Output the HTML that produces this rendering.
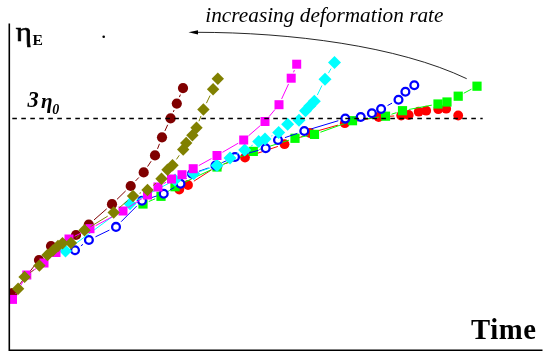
<!DOCTYPE html>
<html><head><meta charset="utf-8"><title>chart</title>
<style>html,body{margin:0;padding:0;background:#fff}svg{display:block}</style></head>
<body>
<svg width="550" height="360" viewBox="0 0 550 360">
<rect width="550" height="360" fill="#fff"/>
<clipPath id="cp"><rect x="9.3" y="0" width="541" height="350.3"/></clipPath>
<g clip-path="url(#cp)">
<path d="M180.40,94.60L179.40,97.10M174.10,110.06L173.30,111.94M167.70,124.77L164.90,130.93M159.48,143.83L157.52,148.87M151.13,161.23L147.57,166.57M138.86,177.46L135.54,180.94M125.68,190.88L117.02,199.32M106.73,208.81L94.07,219.89M83.39,228.94L81.41,230.56M69.59,237.82L57.41,243.18M46.44,251.31L43.56,254.69M34.63,265.47L16.87,287.73" fill="none" stroke="#800000" stroke-width="1.0"/>
<circle cx="183" cy="88.1" r="5.1" fill="#800000"/><circle cx="176.8" cy="103.6" r="5.1" fill="#800000"/><circle cx="170.6" cy="118.4" r="5.1" fill="#800000"/><circle cx="162" cy="137.3" r="5.1" fill="#800000"/><circle cx="155" cy="155.4" r="5.1" fill="#800000"/><circle cx="143.7" cy="172.4" r="5.1" fill="#800000"/><circle cx="130.7" cy="186" r="5.1" fill="#800000"/><circle cx="112" cy="204.2" r="5.1" fill="#800000"/><circle cx="88.8" cy="224.5" r="5.1" fill="#800000"/><circle cx="76" cy="235" r="5.1" fill="#800000"/><circle cx="51" cy="246" r="5.1" fill="#800000"/><circle cx="39" cy="260" r="5.1" fill="#800000"/><circle cx="12.5" cy="293.2" r="5.1" fill="#800000"/>
<path d="M394.22,115.97L385.68,116.53M371.81,118.26L351.69,121.94M338.06,125.10L316.74,131.10M303.59,135.81L290.91,141.39M277.87,146.43L251.63,155.27M238.31,159.57L224.19,163.93M211.61,169.79L193.89,181.21" fill="none" stroke="#ff0000" stroke-width="1.0"/>
<circle cx="458.2" cy="115.5" r="4.9" fill="#ff0000"/><circle cx="446.2" cy="108.7" r="4.9" fill="#ff0000"/><circle cx="438.3" cy="109.2" r="4.9" fill="#ff0000"/><circle cx="426.2" cy="110.7" r="4.9" fill="#ff0000"/><circle cx="418.7" cy="111.7" r="4.9" fill="#ff0000"/><circle cx="408.7" cy="115" r="4.9" fill="#ff0000"/><circle cx="401.2" cy="115.5" r="4.9" fill="#ff0000"/><circle cx="378.7" cy="117" r="4.9" fill="#ff0000"/><circle cx="344.8" cy="123.2" r="4.9" fill="#ff0000"/><circle cx="310" cy="133" r="4.9" fill="#ff0000"/><circle cx="284.5" cy="144.2" r="4.9" fill="#ff0000"/><circle cx="245" cy="157.5" r="4.9" fill="#ff0000"/><circle cx="217.5" cy="166" r="4.9" fill="#ff0000"/><circle cx="188" cy="185" r="4.9" fill="#ff0000"/><circle cx="179.3" cy="189.5" r="4.9" fill="#ff0000"/>
<path d="M471.44,89.16L463.76,93.24M431.81,105.17L408.69,109.53M396.51,112.64L391.49,114.26M379.26,117.05L358.74,119.85M346.57,122.84L320.43,132.26M308.32,135.64L301.18,137.06M288.99,140.19L259.31,149.51M247.51,153.89L222.79,164.51M211.30,169.68L180.70,184.02M169.80,190.26L166.20,192.74M155.21,198.78L148.79,201.52" fill="none" stroke="#00ff00" stroke-width="1.0"/>
<rect x="472.40" y="81.60" width="9.2" height="9.2" fill="#00ff00"/><rect x="453.60" y="91.60" width="9.2" height="9.2" fill="#00ff00"/><rect x="442.40" y="97.40" width="9.2" height="9.2" fill="#00ff00"/><rect x="433.40" y="99.40" width="9.2" height="9.2" fill="#00ff00"/><rect x="397.90" y="106.10" width="9.2" height="9.2" fill="#00ff00"/><rect x="380.90" y="111.60" width="9.2" height="9.2" fill="#00ff00"/><rect x="347.90" y="116.10" width="9.2" height="9.2" fill="#00ff00"/><rect x="309.90" y="129.80" width="9.2" height="9.2" fill="#00ff00"/><rect x="290.40" y="133.70" width="9.2" height="9.2" fill="#00ff00"/><rect x="248.70" y="146.80" width="9.2" height="9.2" fill="#00ff00"/><rect x="212.40" y="162.40" width="9.2" height="9.2" fill="#00ff00"/><rect x="170.40" y="182.10" width="9.2" height="9.2" fill="#00ff00"/><rect x="156.40" y="191.70" width="9.2" height="9.2" fill="#00ff00"/><rect x="138.40" y="199.40" width="9.2" height="9.2" fill="#00ff00"/>
<path d="M392.06,103.14L387.54,105.56M353.44,117.75L352.56,117.85M338.31,120.71L311.29,128.89M297.39,133.36L284.91,137.64M258.68,150.21L242.02,154.99M228.31,159.92L222.19,162.58M208.61,167.91L198.89,171.29M186.49,178.49L186.01,178.91M174.23,187.43L169.97,189.97M156.75,195.94L148.95,198.46M136.86,205.88L121.14,221.72M109.43,230.08L95.47,236.82M83.01,244.32L80.89,245.88" fill="none" stroke="#0000ff" stroke-width="1.0"/>
<circle cx="414.3" cy="85.3" r="3.9" fill="#fff" stroke="#0000ff" stroke-width="2.3"/><circle cx="405.4" cy="91.7" r="3.9" fill="#fff" stroke="#0000ff" stroke-width="2.3"/><circle cx="398.5" cy="99.7" r="3.9" fill="#fff" stroke="#0000ff" stroke-width="2.3"/><circle cx="381.1" cy="109" r="3.9" fill="#fff" stroke="#0000ff" stroke-width="2.3"/><circle cx="371.9" cy="113.2" r="3.9" fill="#fff" stroke="#0000ff" stroke-width="2.3"/><circle cx="360.7" cy="117" r="3.9" fill="#fff" stroke="#0000ff" stroke-width="2.3"/><circle cx="345.3" cy="118.6" r="3.9" fill="#fff" stroke="#0000ff" stroke-width="2.3"/><circle cx="304.3" cy="131" r="3.9" fill="#fff" stroke="#0000ff" stroke-width="2.3"/><circle cx="278" cy="140" r="3.9" fill="#fff" stroke="#0000ff" stroke-width="2.3"/><circle cx="265.7" cy="148.2" r="3.9" fill="#fff" stroke="#0000ff" stroke-width="2.3"/><circle cx="235" cy="157" r="3.9" fill="#fff" stroke="#0000ff" stroke-width="2.3"/><circle cx="215.5" cy="165.5" r="3.9" fill="#fff" stroke="#0000ff" stroke-width="2.3"/><circle cx="192" cy="173.7" r="3.9" fill="#fff" stroke="#0000ff" stroke-width="2.3"/><circle cx="180.5" cy="183.7" r="3.9" fill="#fff" stroke="#0000ff" stroke-width="2.3"/><circle cx="163.7" cy="193.7" r="3.9" fill="#fff" stroke="#0000ff" stroke-width="2.3"/><circle cx="142" cy="200.7" r="3.9" fill="#fff" stroke="#0000ff" stroke-width="2.3"/><circle cx="116" cy="226.9" r="3.9" fill="#fff" stroke="#0000ff" stroke-width="2.3"/><circle cx="88.9" cy="240" r="3.9" fill="#fff" stroke="#0000ff" stroke-width="2.3"/><circle cx="75" cy="250.2" r="3.9" fill="#fff" stroke="#0000ff" stroke-width="2.3"/>
<path d="M331.04,68.58L328.46,73.12M321.95,85.50L317.35,95.00M272.38,135.50L271.32,136.00M252.72,145.13L250.68,146.37M238.55,153.35L236.15,154.65M223.94,161.50L223.06,162.00M210.40,167.82L200.30,171.38M187.07,175.93L181.63,177.77M168.81,183.26L136.19,200.44M124.36,207.84L71.14,246.86" fill="none" stroke="#00ffff" stroke-width="1.0"/>
<path d="M334.5,56.0L341.0,62.5L334.5,69.0L328.0,62.5Z" fill="#00ffff"/><path d="M325,72.7L331.5,79.2L325,85.7L318.5,79.2Z" fill="#00ffff"/><path d="M314.3,94.8L320.8,101.3L314.3,107.8L307.8,101.3Z" fill="#00ffff"/><path d="M309.8,99.5L316.3,106L309.8,112.5L303.3,106Z" fill="#00ffff"/><path d="M305.5,104.3L312.0,110.8L305.5,117.3L299.0,110.8Z" fill="#00ffff"/><path d="M299,113.8L305.5,120.3L299,126.8L292.5,120.3Z" fill="#00ffff"/><path d="M287.6,117.7L294.1,124.2L287.6,130.7L281.1,124.2Z" fill="#00ffff"/><path d="M278.7,126.0L285.2,132.5L278.7,139.0L272.2,132.5Z" fill="#00ffff"/><path d="M265,132.5L271.5,139L265,145.5L258.5,139Z" fill="#00ffff"/><path d="M258.7,135.0L265.2,141.5L258.7,148.0L252.2,141.5Z" fill="#00ffff"/><path d="M244.7,143.5L251.2,150L244.7,156.5L238.2,150Z" fill="#00ffff"/><path d="M230,151.5L236.5,158L230,164.5L223.5,158Z" fill="#00ffff"/><path d="M217,159.0L223.5,165.5L217,172.0L210.5,165.5Z" fill="#00ffff"/><path d="M193.7,167.2L200.2,173.7L193.7,180.2L187.2,173.7Z" fill="#00ffff"/><path d="M175,173.5L181.5,180L175,186.5L168.5,180Z" fill="#00ffff"/><path d="M130,197.2L136.5,203.7L130,210.2L123.5,203.7Z" fill="#00ffff"/><path d="M65.5,244.5L72.0,251L65.5,257.5L59.0,251Z" fill="#00ffff"/>
<path d="M294.40,70.06L293.50,72.34M288.57,83.92L281.63,98.98M274.97,109.54L269.03,116.66M260.24,125.63L248.46,135.87M238.25,143.16L222.45,152.34M211.49,158.56L198.71,165.64M166.08,182.21L163.42,183.79M152.99,190.82L152.51,191.18M142.23,198.44L128.27,207.56M117.45,213.98L95.55,225.72M84.34,231.47L74.66,236.23M64.63,243.54L60.37,247.96M51.26,256.65L48.74,258.85M38.83,266.60L31.97,271.40M23.61,280.44L15.69,293.96" fill="none" stroke="#ff00ff" stroke-width="1.0"/>
<rect x="292.20" y="59.70" width="9" height="9" fill="#ff00ff"/><rect x="286.70" y="73.70" width="9" height="9" fill="#ff00ff"/><rect x="274.50" y="100.20" width="9" height="9" fill="#ff00ff"/><rect x="260.50" y="117.00" width="9" height="9" fill="#ff00ff"/><rect x="239.20" y="135.50" width="9" height="9" fill="#ff00ff"/><rect x="212.50" y="151.00" width="9" height="9" fill="#ff00ff"/><rect x="188.70" y="164.20" width="9" height="9" fill="#ff00ff"/><rect x="177.50" y="170.20" width="9" height="9" fill="#ff00ff"/><rect x="167.00" y="174.50" width="9" height="9" fill="#ff00ff"/><rect x="153.50" y="182.50" width="9" height="9" fill="#ff00ff"/><rect x="143.00" y="190.50" width="9" height="9" fill="#ff00ff"/><rect x="118.50" y="206.50" width="9" height="9" fill="#ff00ff"/><rect x="85.50" y="224.20" width="9" height="9" fill="#ff00ff"/><rect x="64.50" y="234.50" width="9" height="9" fill="#ff00ff"/><rect x="51.50" y="248.00" width="9" height="9" fill="#ff00ff"/><rect x="39.50" y="258.50" width="9" height="9" fill="#ff00ff"/><rect x="22.30" y="270.50" width="9" height="9" fill="#ff00ff"/><rect x="8.00" y="294.90" width="9" height="9" fill="#ff00ff"/>
<path d="M210.08,95.52L206.42,103.18M200.93,116.05L198.97,121.25M179.26,155.28L176.44,159.42M156.05,183.10L152.95,185.60M141.03,192.68L139.47,193.32M127.68,200.55L119.02,207.95M107.72,216.14L90.48,226.66M79.40,235.10L76.10,238.20M33.84,269.85L30.16,272.65" fill="none" stroke="#808000" stroke-width="1.0"/>
<path d="M217.8,72.5L224.0,78.7L217.8,84.9L211.60000000000002,78.7Z" fill="#808000"/><path d="M213.1,83.0L219.29999999999998,89.2L213.1,95.4L206.9,89.2Z" fill="#808000"/><path d="M203.4,103.3L209.6,109.5L203.4,115.7L197.20000000000002,109.5Z" fill="#808000"/><path d="M196.5,121.6L202.7,127.8L196.5,134.0L190.3,127.8Z" fill="#808000"/><path d="M192.4,129.0L198.6,135.2L192.4,141.39999999999998L186.20000000000002,135.2Z" fill="#808000"/><path d="M186.2,136.8L192.39999999999998,143L186.2,149.2L180.0,143Z" fill="#808000"/><path d="M183.2,143.3L189.39999999999998,149.5L183.2,155.7L177.0,149.5Z" fill="#808000"/><path d="M172.5,159.0L178.7,165.2L172.5,171.39999999999998L166.3,165.2Z" fill="#808000"/><path d="M167.5,163.5L173.7,169.7L167.5,175.89999999999998L161.3,169.7Z" fill="#808000"/><path d="M161.5,172.5L167.7,178.7L161.5,184.89999999999998L155.3,178.7Z" fill="#808000"/><path d="M147.5,183.8L153.7,190L147.5,196.2L141.3,190Z" fill="#808000"/><path d="M133,189.8L139.2,196L133,202.2L126.8,196Z" fill="#808000"/><path d="M113.7,206.3L119.9,212.5L113.7,218.7L107.5,212.5Z" fill="#808000"/><path d="M84.5,224.10000000000002L90.7,230.3L84.5,236.5L78.3,230.3Z" fill="#808000"/><path d="M71,236.8L77.2,243L71,249.2L64.8,243Z" fill="#808000"/><path d="M62.5,237.0L68.7,243.2L62.5,249.39999999999998L56.3,243.2Z" fill="#808000"/><path d="M58,239.8L64.2,246L58,252.2L51.8,246Z" fill="#808000"/><path d="M53,244.3L59.2,250.5L53,256.7L46.8,250.5Z" fill="#808000"/><path d="M47.5,248.8L53.7,255L47.5,261.2L41.3,255Z" fill="#808000"/><path d="M39.4,259.40000000000003L45.6,265.6L39.4,271.8L33.199999999999996,265.6Z" fill="#808000"/><path d="M24.6,270.7L30.8,276.9L24.6,283.09999999999997L18.400000000000002,276.9Z" fill="#808000"/><path d="M18.1,282.5L24.3,288.7L18.1,294.9L11.900000000000002,288.7Z" fill="#808000"/>
</g>
<line x1="12.3" y1="118.6" x2="482.7" y2="118.6" stroke="#000" stroke-width="1.5" stroke-dasharray="4.6 4.4"/>
<path d="M9.3,23.5V350.3H542.5" fill="none" stroke="#000" stroke-width="1.6"/>
<path d="M197,32.3 C290.4,32.35 398.2,45.95 466.7,78.7" fill="none" stroke="#000" stroke-width="0.85"/>
<path d="M188.5,32.2L198,30.2L198,34.4Z" fill="#000"/>
<circle cx="103.7" cy="36.7" r="1.3" fill="#000"/>
<text x="205.3" y="22" font-family="'Liberation Serif', serif" font-style="italic" font-size="21.3" fill="#000" id="t1">increasing deformation rate</text>
<text transform="translate(15.8,40.8) scale(1.06,0.975)" font-family="'Liberation Serif', serif" font-size="29" fill="#000" stroke="#000" stroke-width="0.75" id="t2">η</text>
<text x="32.6" y="45.3" font-family="'Liberation Serif', serif" font-weight="bold" font-size="15.6" fill="#000" id="t2b">E</text>
<text font-family="'Liberation Serif', serif" font-weight="bold" font-style="italic" fill="#000" id="t3"><tspan x="27.6" y="106.8" font-size="22.5">3</tspan><tspan x="41" y="107.9" font-size="21">η</tspan><tspan x="52.3" y="113.5" font-size="14">0</tspan></text>
<text x="471" y="338.6" font-family="'Liberation Serif', serif" font-weight="bold" font-size="28.7" letter-spacing="0.6" fill="#000" id="t4">Time</text>
</svg>
</body></html>
